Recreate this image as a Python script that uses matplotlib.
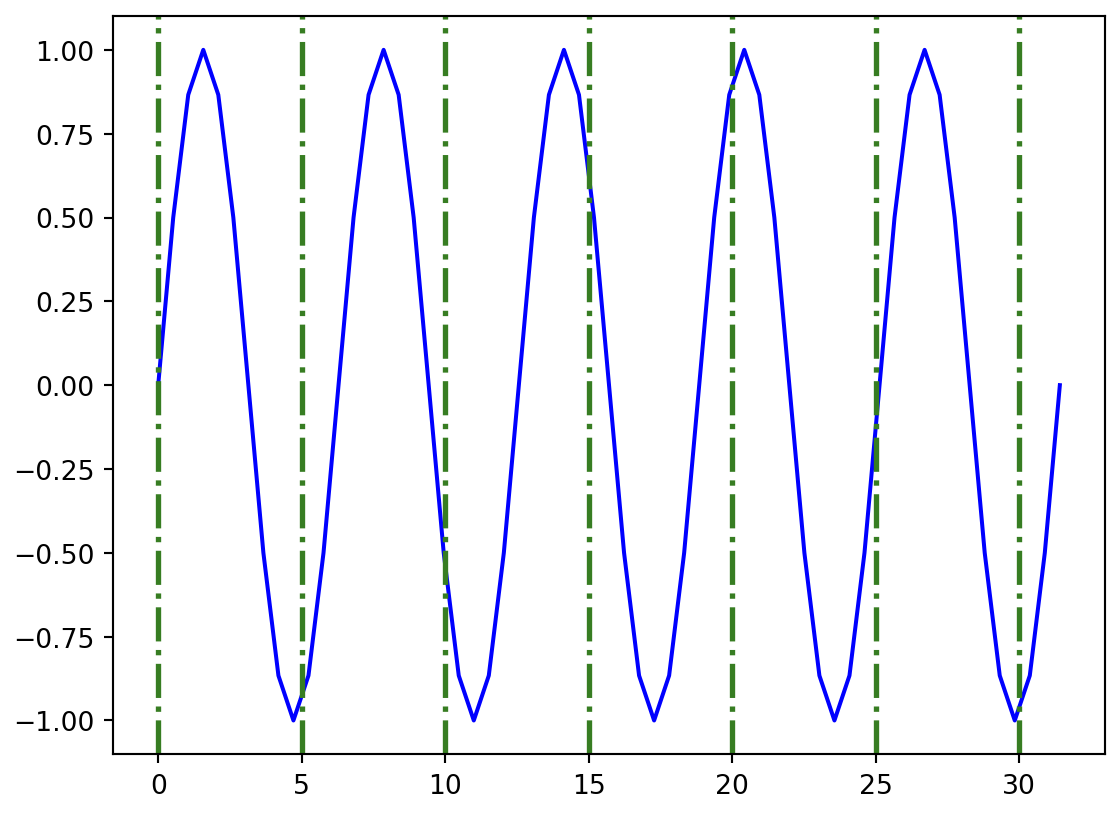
import matplotlib
matplotlib.use("Agg")
import matplotlib.pyplot as plt

# sample points, step of pi/6 from 0 to 10*pi
x_vals = [0.0, 0.524, 1.047, 1.571, 2.094, 2.618, 3.142, 3.665, 4.189, 4.712,
          5.236, 5.760, 6.283, 6.807, 7.330, 7.854, 8.378, 8.901, 9.425, 9.948,
          10.472, 10.996, 11.519, 12.043, 12.566, 13.090, 13.614, 14.137, 14.661,
          15.184, 15.708, 16.232, 16.755, 17.279, 17.802, 18.326, 18.850, 19.373,
          19.897, 20.420, 20.944, 21.468, 21.991, 22.515, 23.038, 23.562, 24.086,
          24.609, 25.133, 25.656, 26.180, 26.704, 27.227, 27.751, 28.274, 28.798,
          29.322, 29.845, 30.369, 30.892, 31.416]
y_vals = [0.0, 0.5, 0.866, 1.0, 0.866, 0.5, 0.0, -0.5, -0.866, -1.0, -0.866, -0.5,
          0.0, 0.5, 0.866, 1.0, 0.866, 0.5, 0.0, -0.5, -0.866, -1.0, -0.866, -0.5,
          0.0, 0.5, 0.866, 1.0, 0.866, 0.5, 0.0, -0.5, -0.866, -1.0, -0.866, -0.5,
          0.0, 0.5, 0.866, 1.0, 0.866, 0.5, 0.0, -0.5, -0.866, -1.0, -0.866, -0.5,
          0.0, 0.5, 0.866, 1.0, 0.866, 0.5, 0.0, -0.5, -0.866, -1.0, -0.866, -0.5,
          0.0]
vlines_x = [0, 5, 10, 15, 20, 25, 30]

fig = plt.figure(figsize=(5.833, 4.281), dpi=192)
fig.subplots_adjust(left=0.101, right=0.9866, top=0.979, bottom=0.0815)
ax = fig.add_subplot(111)

ax.plot(x_vals, y_vals, color="b", linewidth=1.5)
for xv in vlines_x:
    ax.axvline(xv, color="#377d22", linestyle="-.", linewidth=2)

fig.savefig("out.png")
